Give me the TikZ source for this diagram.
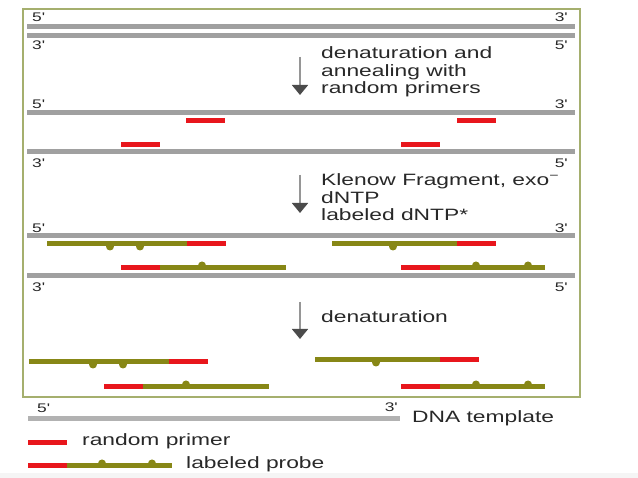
\documentclass[tikz,border=0pt]{standalone}
\usepackage{fontspec}
\usepackage{tikz}
\usetikzlibrary{arrows.meta,positioning}

\newfontfamily\notefont{Liberation Sans}[FakeStretch=1.39]
\newfontfamily\endfont{Liberation Sans}[FakeStretch=1.39]

\definecolor{tmplgray}{RGB}{160,160,160}
\definecolor{legendgray}{RGB}{178,178,178}
\definecolor{primerred}{RGB}{232,22,28}
\definecolor{probeolive}{RGB}{135,135,22}
\definecolor{framegreen}{RGB}{165,175,110}
\definecolor{shaftgray}{RGB}{150,150,150}
\definecolor{headgray}{RGB}{75,75,75}
\definecolor{inkgray}{RGB}{40,40,40}

\newcommand{\primeq}{\textquotesingle}

\begin{document}
\begin{tikzpicture}[
    x=1pt, y=-1pt,
    template/.style={draw=tmplgray, line width=5pt},
    primer/.style={draw=primerred, line width=5pt},
    probe/.style={draw=probeolive, line width=5pt},
    bump/.style={fill=probeolive},
    stepline/.style={draw=shaftgray, line width=1.6pt, -{Triangle[color=headgray, width=16pt, length=10pt]}},
    endlabel/.style={font=\endfont\fontsize{12.5}{13}\selectfont, text=inkgray, inner sep=0pt},
    note/.style={font=\notefont\fontsize{16.4}{17.5}\selectfont, text=inkgray, align=left, inner sep=0pt, anchor=base west}
]
    \useasboundingbox (0,0) rectangle (638,478);
    \fill[black!4] (0,473) rectangle (638,478);

    % frame
    \draw[framegreen, line width=2pt] (23,9) rectangle (580,397);

    % template strands
    \foreach \y in {27,36,113,152,236,276}
        \draw[template] (27,\y) -- (575,\y);

    % strand ends
    \foreach \y/\l/\r [count=\i] in {22/5/3, 50/3/5, 109/5/3, 168/3/5, 233/5/3, 292/3/5} {
        \node[endlabel, anchor=base west] (endl\i) at (32,\y) {\l\primeq};
        \node[endlabel, anchor=base east] (endr\i) at (567,\y) {\r\primeq};
    }

    % step arrows
    \coordinate (s1top) at (300,57);  \coordinate (s1bot) at (300,95);
    \coordinate (s2top) at (300,175); \coordinate (s2bot) at (300,213);
    \coordinate (s3top) at (300,302); \coordinate (s3bot) at (300,339);
    \draw[stepline] (s1top) -- (s1bot);
    \draw[stepline] (s2top) -- (s2bot);
    \draw[stepline] (s3top) -- (s3bot);

    % base of a multi-line node = last line
    \node[note] (anneal) at (321,94) {denaturation and\\annealing with\\random primers};
    \node[note] (klenow) at (321,221) {Klenow Fragment, exo\textsuperscript{−}\\dNTP\\labeled dNTP*};
    \node[note] (denat) at (321,323) {denaturation};

    % primers annealed
    \draw[primer] (186,121) -- (225,121);
    \draw[primer] (457,121) -- (496,121);
    \draw[primer] (121,145) -- (160,145);
    \draw[primer] (401,145) -- (440,145);

    % extended probes on template
    \draw[probe] (47,244) -- (187,244);   \draw[primer] (187,244) -- (226,244);
    \draw[probe] (332,244) -- (457,244);  \draw[primer] (457,244) -- (496,244);
    \draw[primer] (121,268) -- (160,268); \draw[probe] (160,268) -- (286,268);
    \draw[primer] (401,268) -- (440,268); \draw[probe] (440,268) -- (545,268);
    \foreach \x in {110,140,393} \fill[bump] (\x,246.5) circle (4);
    \foreach \x in {202,476,528} \fill[bump] (\x,265.5) circle (4);

    % released probes
    \draw[probe] (29,362) -- (169,362);   \draw[primer] (169,362) -- (208,362);
    \draw[probe] (315,360) -- (440,360);  \draw[primer] (440,360) -- (479,360);
    \draw[primer] (104,387) -- (143,387); \draw[probe] (143,387) -- (269,387);
    \draw[primer] (401,387) -- (440,387); \draw[probe] (440,387) -- (545,387);
    \foreach \x in {93,123} \fill[bump] (\x,364.5) circle (4);
    \fill[bump] (376,362.5) circle (4);
    \foreach \x in {186,476,528} \fill[bump] (\x,384.5) circle (4);

    % legend
    \draw[draw=legendgray, line width=5pt] (28,419) -- (400,419);
    \node[endlabel, anchor=base west] (leg5) at (37,413) {5\primeq};
    \node[endlabel, anchor=base east] (leg3) at (397,412) {3\primeq};
    \node[note] (tmpltext) at (412,423) {DNA template};

    \draw[primer] (28,443) -- (67,443);
    \node[note] (primertext) at (82,446) {random primer};

    \draw[primer] (28,466) -- (67,466); \draw[probe] (67,466) -- (172,466);
    \foreach \x in {102,152} \fill[bump] (\x,463.5) circle (4);
    \node[note] (probetext) at (186,469) {labeled probe};
\end{tikzpicture}
\end{document}
